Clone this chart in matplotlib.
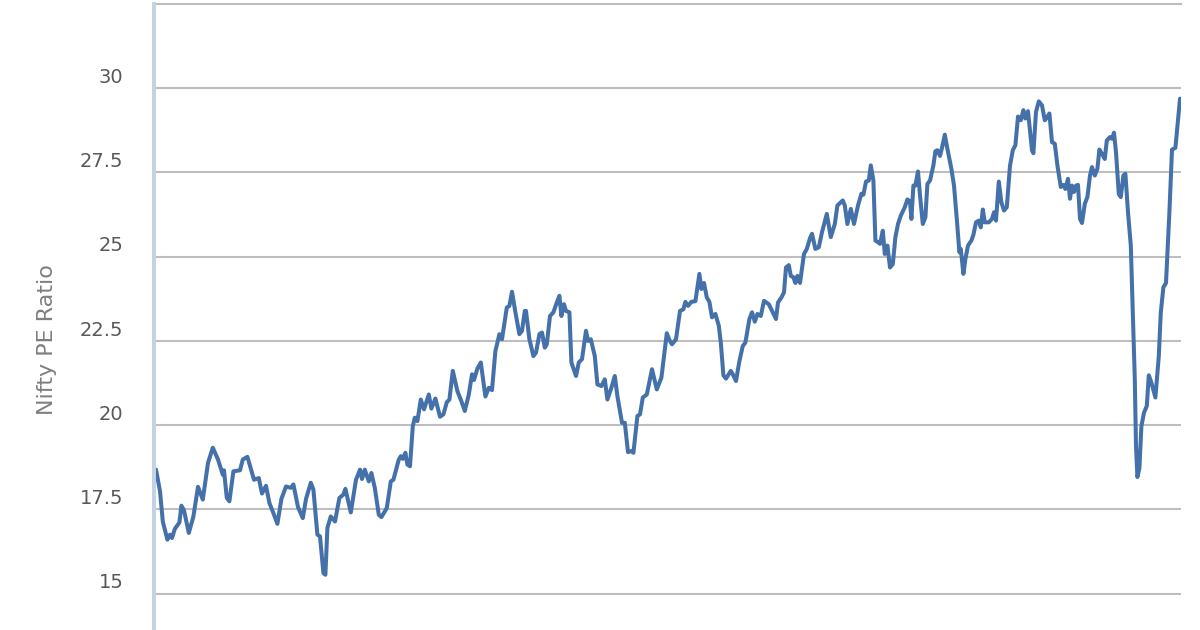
import matplotlib
matplotlib.use('Agg')
import matplotlib.pyplot as plt
import matplotlib.transforms as mtransforms

# Nifty PE ratio (x = week index, no date labels shown)
week = [
    0, 2, 3.4, 5.7, 7, 8, 9.4, 11.7, 12.7, 14, 16.4, 18.7, 21, 23.4, 26, 28.4,
    31, 33.4, 34, 35.4, 36.7, 38.7, 42, 43.4, 45.7, 49, 51.4, 53, 55, 56.7,
    58.7, 60.7, 62.7, 65, 67.4, 68.7, 71, 73.4, 75, 77.4, 78.7, 80.7, 82, 83.7,
    84.7, 85.7, 87.4, 89.5, 91.7, 93.7, 94.7, 97.4, 100, 102, 103, 104.4, 106.4,
    107.7, 109.4, 111.4, 112.7, 115.4, 117.4, 118.7, 121.4, 122.4, 123.4, 124.7,
    125.7, 127, 128.4, 129.4, 130.7, 132.4, 134, 136.4, 137.7, 139.7, 142, 143.7,
    145.4, 146.7, 148.4, 150.7, 152.7, 154.4, 156.4, 158, 159, 160.7, 162.4,
    164.7, 166.4, 168, 169.7, 171.7, 173, 175.4, 176.7, 178, 179.7, 181.7, 183,
    184.4, 185, 186.7, 188.7, 190, 191.7, 193, 194.4, 195.4, 197, 198.7, 200.4,
    201.7, 202.7, 204, 205, 206.7, 207.7, 210, 211.4, 213, 215, 216, 217.4, 219.4,
    220.7, 222.7, 224.4, 225.7, 227.7, 229.4, 230.7, 233, 234.4, 236, 237.7,
    238.7, 240.7, 242, 243.4, 245.4, 248, 250.4, 252.7, 253.7, 255.4, 256.7, 258,
    260, 262, 263.7, 264.7, 266, 267.7, 269.7, 271.7, 272.7, 274, 275.4, 276.7,
    278, 279.7, 281.4, 282.4, 283.7, 285, 287.4, 288.4, 290, 291.7, 293.4, 294.7,
    296.7, 298, 299.4, 300.7, 302.4, 304, 306.4, 310, 311, 312.7, 314, 315, 316.4,
    317.4, 318.7, 319.7, 320.7, 322, 324, 325.4, 327, 328, 329.7, 331.4, 333,
    335.4, 337.4, 339.4, 340.7, 343.4, 344.4, 345.7, 347.4, 349, 351, 352.7,
    353.7, 355, 356.4, 357.4, 358.7, 359.7, 361, 362, 363.4, 364.4, 365.7, 367,
    368.4, 369.7, 371, 372.4, 374.4, 375.7, 377, 377.7, 378.7, 379.7, 381, 382,
    383.4, 384.7, 385.7, 387, 388.7, 389.7, 390.7, 392, 393, 394.4, 395.7, 397.7,
    399, 400.4, 401.7, 402.4, 403.7, 404.7, 406, 407.7, 408.7, 410, 411.4, 412.4,
    413.4, 414.4, 416.4, 418, 419, 420, 421.4, 422.7, 424, 425.4, 427, 428.4,
    429.7, 431, 432.4, 433.7, 434.7, 436, 438, 438.7, 440, 441.4, 443, 444.4,
    445.7, 446.7, 448, 449.4, 450.7, 452.4, 453.7, 454.7, 456, 457, 458, 459, 460,
    461, 462, 463, 464.4, 465.7, 467, 468, 469.4, 470.7, 471.7, 473, 474.4, 475.4,
    477, 478, 479, 480, 481.4, 482.4, 483.7, 484.7, 486, 487.4, 488.4, 489.4, 490,
    490.7, 491.7, 492.7, 494, 495.4, 496.4, 497.7, 499.7, 501.4, 502.4, 503.7,
    505, 506.7, 508, 509.7, 512,
]
pe = [
    18.68, 18.04, 17.14, 16.60, 16.75, 16.65, 16.92, 17.11, 17.61, 17.47, 16.80,
    17.29, 18.17, 17.79, 18.88, 19.33, 18.98, 18.53, 18.66, 17.84, 17.74, 18.63,
    18.66, 18.98, 19.06, 18.38, 18.43, 17.97, 18.20, 17.69, 17.39, 17.07, 17.81,
    18.18, 18.14, 18.24, 17.57, 17.24, 17.81, 18.29, 18.09, 16.75, 16.70, 15.61,
    15.56, 16.95, 17.29, 17.14, 17.84, 17.94, 18.11, 17.41, 18.38, 18.68, 18.40,
    18.68, 18.33, 18.58, 18.14, 17.34, 17.27, 17.54, 18.33, 18.38, 18.98, 19.08,
    19.00, 19.18, 18.83, 18.78, 19.97, 20.22, 20.12, 20.76, 20.47, 20.91, 20.49,
    20.79, 20.25, 20.32, 20.68, 20.76, 21.61, 21.01, 20.71, 20.42, 20.91, 21.51,
    21.34, 21.68, 21.86, 20.85, 21.11, 21.04, 22.20, 22.70, 22.55, 23.49, 23.54,
    23.96, 23.35, 22.70, 22.80, 23.39, 23.39, 22.55, 22.05, 22.15, 22.70, 22.75,
    22.30, 22.40, 23.24, 23.35, 23.64, 23.84, 23.24, 23.59, 23.39, 23.35, 21.86,
    21.46, 21.86, 21.96, 22.80, 22.50, 22.55, 22.05, 21.21, 21.16, 21.36, 20.76,
    21.11, 21.46, 20.86, 20.07, 20.07, 19.20, 19.23, 19.18, 20.27, 20.32, 20.82,
    20.91, 21.66, 21.06, 21.41, 21.90, 22.73, 22.53, 22.40, 22.55, 23.39, 23.44,
    23.66, 23.54, 23.66, 23.68, 24.49, 24.04, 24.22, 23.79, 23.66, 23.20, 23.30,
    22.95, 22.45, 21.48, 21.38, 21.61, 21.51, 21.31, 21.90, 22.35, 22.45, 23.15,
    23.35, 23.07, 23.30, 23.24, 23.69, 23.59, 23.15, 23.64, 23.79, 23.94, 24.68,
    24.75, 24.43, 24.39, 24.22, 24.43, 24.22, 25.08, 25.23, 25.55, 25.68, 25.23,
    25.28, 25.73, 26.27, 25.58, 25.97, 26.52, 26.67, 26.52, 25.97, 26.42, 25.97,
    26.52, 26.87, 26.84, 27.23, 27.26, 27.71, 27.26, 25.48, 25.43, 25.38, 25.77,
    25.08, 25.33, 24.68, 24.78, 25.58, 25.97, 26.22, 26.47, 26.70, 26.64, 26.12,
    27.11, 27.11, 27.53, 26.82, 25.97, 26.17, 27.16, 27.26, 27.71, 28.13, 28.16,
    27.99, 28.23, 28.62, 28.20, 27.61, 27.11, 26.12, 25.13, 25.23, 24.49, 24.93,
    25.33, 25.48, 25.65, 26.02, 26.07, 25.87, 26.40, 26.02, 26.02, 26.12, 26.32,
    26.07, 27.23, 26.61, 26.37, 26.47, 27.70, 28.16, 28.31, 29.16, 29.05, 29.35,
    29.10, 29.32, 28.16, 28.07, 29.30, 29.61, 29.49, 29.05, 29.15, 29.25, 28.40,
    28.35, 27.71, 27.07, 27.13, 27.01, 27.31, 26.72, 27.11, 26.92, 27.11, 27.13,
    26.12, 26.00, 26.57, 26.77, 27.41, 27.66, 27.41, 27.61, 28.18, 28.05, 27.90,
    28.45, 28.55, 28.50, 28.68, 28.10, 26.86, 26.77, 27.41, 27.46, 26.32, 25.33,
    23.35, 21.36, 19.38, 18.46, 18.72, 19.97, 20.37, 20.57, 21.48, 21.26, 20.82,
    22.05, 23.35, 24.09, 24.22, 26.32, 28.18, 28.23, 29.69,
]

y_ticks = [15, 17.5, 20, 22.5, 25, 27.5, 30]
y_tick_labels = ['15', '17.5', '20', '22.5', '25', '27.5', '30']

LINE_COLOR = '#4571AA'
GRID_COLOR = '#BEBEBE'
SPINE_COLOR = '#C3D3E3'
TEXT_COLOR = '#595959'

fig = plt.figure(figsize=(12, 6.3), dpi=100)
# axes spans from the left spine (x=154px) to the end of the gridlines (x=1181px)
ax = fig.add_axes([154 / 1200, 0.0, 1027 / 1200, 1 - 4 / 630])

ax.plot(week, pe, color=LINE_COLOR, linewidth=2.9,
        solid_joinstyle='round', solid_capstyle='round', zorder=3)

ax.set_xlim(-1, 512.5)
ax.set_ylim(13.92, 32.5)
ax.set_xticks([])
ax.set_yticks(y_ticks)
ax.set_yticklabels(y_tick_labels)
ax.yaxis.grid(True, color=GRID_COLOR, linewidth=1.5)
ax.set_axisbelow(True)
ax.tick_params(axis='y', length=0, pad=22, labelsize=14, labelcolor=TEXT_COLOR)

# tick labels sit a bit above their gridlines in the original
offset = mtransforms.ScaledTranslation(0, 12.7 / 100, fig.dpi_scale_trans)
for lbl in ax.get_yticklabels():
    lbl.set_transform(lbl.get_transform() + offset)

for side in ['right', 'bottom']:
    ax.spines[side].set_visible(False)
ax.spines['top'].set_color(GRID_COLOR)
ax.spines['top'].set_linewidth(1.5)
ax.spines['left'].set_color(SPINE_COLOR)
ax.spines['left'].set_linewidth(2.9)
ax.spines['left'].set_zorder(4)

fig.text(47 / 1200, 1 - 340 / 630, 'Nifty PE Ratio', rotation=90,
         ha='center', va='center', fontsize=16, color='#7F7F7F')

fig.savefig('out.png', dpi=100)
